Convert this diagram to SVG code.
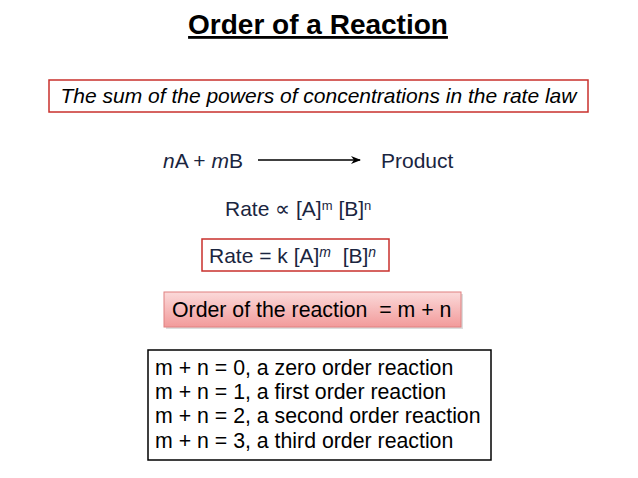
<svg xmlns="http://www.w3.org/2000/svg" width="638" height="478" viewBox="0 0 638 478">
<style>
text{font-family:"Liberation Sans",Arial,sans-serif;white-space:pre}
.n{fill:#1a2540;font-size:21px}
.b{font-size:21.3px;fill:#000}
</style>
<defs>
<linearGradient id="pk" x1="0" y1="0" x2="0" y2="1"><stop offset="0" stop-color="#fbdada"/><stop offset="1" stop-color="#f29a9a"/></linearGradient>
<marker id="ah" markerWidth="10" markerHeight="8" refX="9" refY="4" orient="auto" markerUnits="userSpaceOnUse"><path d="M0,0 L10,4 L0,8 L3,4 Z" fill="#000"/></marker>
</defs>
<rect width="638" height="478" fill="#fff"/>
<g id="title"><text x="318" y="34" text-anchor="middle" font-size="28" font-weight="bold" text-decoration="underline">Order of a Reaction</text></g>
<g id="def"><rect x="49" y="80" width="539" height="32" fill="#fff" stroke="#c9302c" stroke-width="1.5"/><text x="318.5" y="103" text-anchor="middle" font-size="21" font-style="italic">The sum of the powers of concentrations in the rate law</text></g>
<g id="reaction"><text x="163" y="168" class="n"><tspan font-style="italic">n</tspan>A + <tspan font-style="italic">m</tspan>B</text><text x="381" y="168" class="n">Product</text></g>
<g id="connectors"><line x1="258" y1="160" x2="360" y2="160" stroke="#000" stroke-width="1.5" marker-end="url(#ah)"/></g>
<g id="prop"><text x="225" y="216" class="n">Rate ∝ [A]<tspan font-size="13" dy="-6">m</tspan><tspan dy="6"> [B]</tspan><tspan font-size="13" dy="-6">n</tspan></text></g>
<g id="ratelaw"><rect x="202" y="239" width="187" height="32" fill="#fff" stroke="#c9302c" stroke-width="1.5"/><text x="209" y="263" class="n">Rate = k [A]<tspan font-size="14" font-style="italic" dy="-6">m</tspan><tspan dy="6">  [B]</tspan><tspan font-size="14" font-style="italic" dy="-6">n</tspan></text></g>
<g id="order"><rect x="166" y="294" width="297" height="35" fill="#bbb" opacity="0.5"/><rect x="164" y="292" width="297" height="35" fill="url(#pk)" stroke="#e08080"/><text x="172" y="317" class="b">Order of the reaction  = m + n</text></g>
<g id="list"><rect x="148" y="350" width="343" height="110" fill="#fff" stroke="#000" stroke-width="1.5"/>
<text x="155" y="375" class="b">m + n = 0, a zero order reaction</text>
<text x="155" y="399" class="b">m + n = 1, a first order reaction</text>
<text x="155" y="423" class="b">m + n = 2, a second order reaction</text>
<text x="155" y="448" class="b">m + n = 3, a third order reaction</text></g>
</svg>
